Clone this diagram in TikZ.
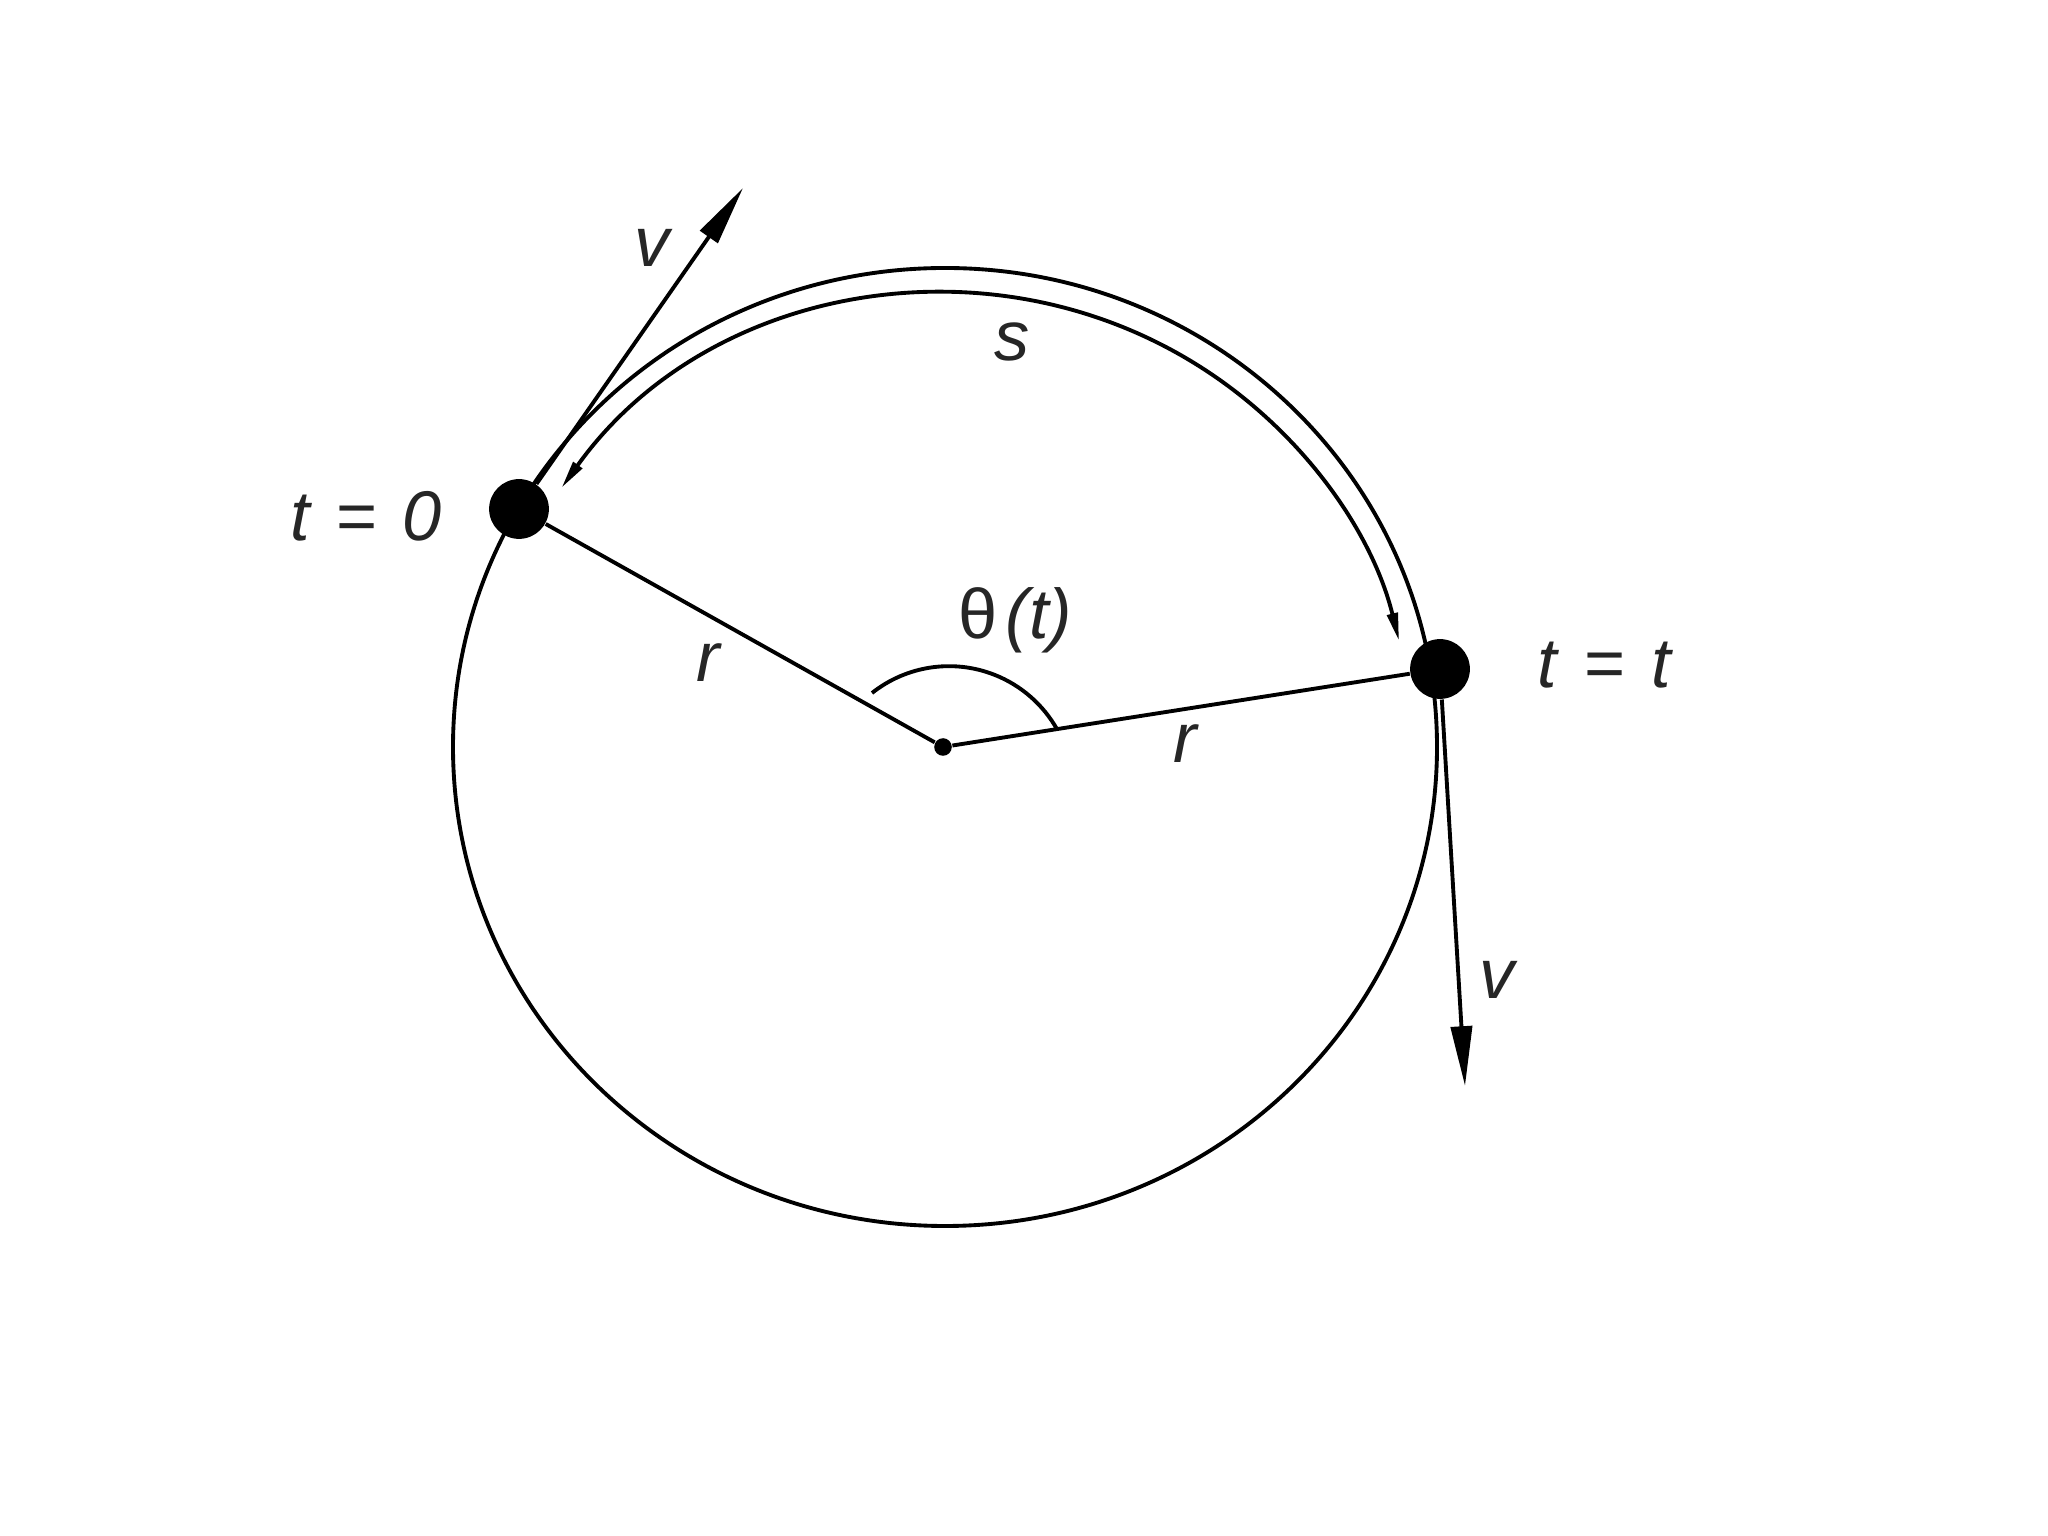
\documentclass[tikz,border=0pt]{standalone}
\usepackage{fontspec}
\setmainfont{Liberation Sans}
\usetikzlibrary{arrows.meta}
\tikzset{
  lw/.style={line width=1.1pt, black},
  bigdot/.style={circle, fill=black, inner sep=0pt, minimum size=17pt},
  smalldot/.style={circle, fill=black, inner sep=0pt, minimum size=5pt},
  lbl/.style={inner sep=0pt, text=black!85, font=\fontsize{20}{24}\selectfont\itshape},
  vec/.style={lw, -{Triangle[length=17pt, width=6pt]}},
  sarrow/.style={lw, {Triangle[length=8pt, width=3pt]}-{Triangle[length=8pt, width=3pt]}},
}
\begin{document}
\begin{tikzpicture}[x=0.01cm, y=0.01cm]
\useasboundingbox (0,0) rectangle (2048,1536);
% circle (slightly elliptical as in the reference)
\coordinate (E) at (945,789);
\draw[lw] (E) ellipse[x radius=492, y radius=479];
% points
\node[smalldot] (O) at (943,789) {};
\node[bigdot] (p0) at (519,1027) {};
\node[bigdot] (pt) at (1440,867) {};
% radii
\draw[lw] (p0) -- (O);
\draw[lw] (O) -- (pt);
% arc length s
\coordinate (s0) at (561.5,1048.1);
\draw[sarrow] (s0) arc[start angle=145.2, end angle=13.5, x radius=467, y radius=454];
% angle mark
\coordinate (a0) at (872,843);
\draw[lw] (a0) arc[start angle=128.4, end angle=29.2, radius=124];
% velocity vectors
\coordinate (v0tip) at (743,1348);
\coordinate (vttip) at (1465,450);
\draw[vec] (p0) -- (v0tip);
\draw[vec] (pt) -- (vttip);
% labels
\node[lbl] (l0) at (366,1020) {t\hspace{0.36em}=\hspace{0.36em}0};
\node[lbl] (lt) at (1604,871) {t\hspace{0.38em}=\hspace{0.38em}t};
\node[lbl] (lv0) at (652,1288) {v};
\node[lbl] (lvt) at (1497,556) {v};
\node[lbl] (ls) at (1012,1194) {s};
\node[lbl] (lth) at (1015,916) {{\upshape θ}\hspace{0.12em}(t)};
\node[lbl] (lr1) at (708,873) {r};
\node[lbl] (lr2) at (1185,792) {r};
\end{tikzpicture}
\end{document}
